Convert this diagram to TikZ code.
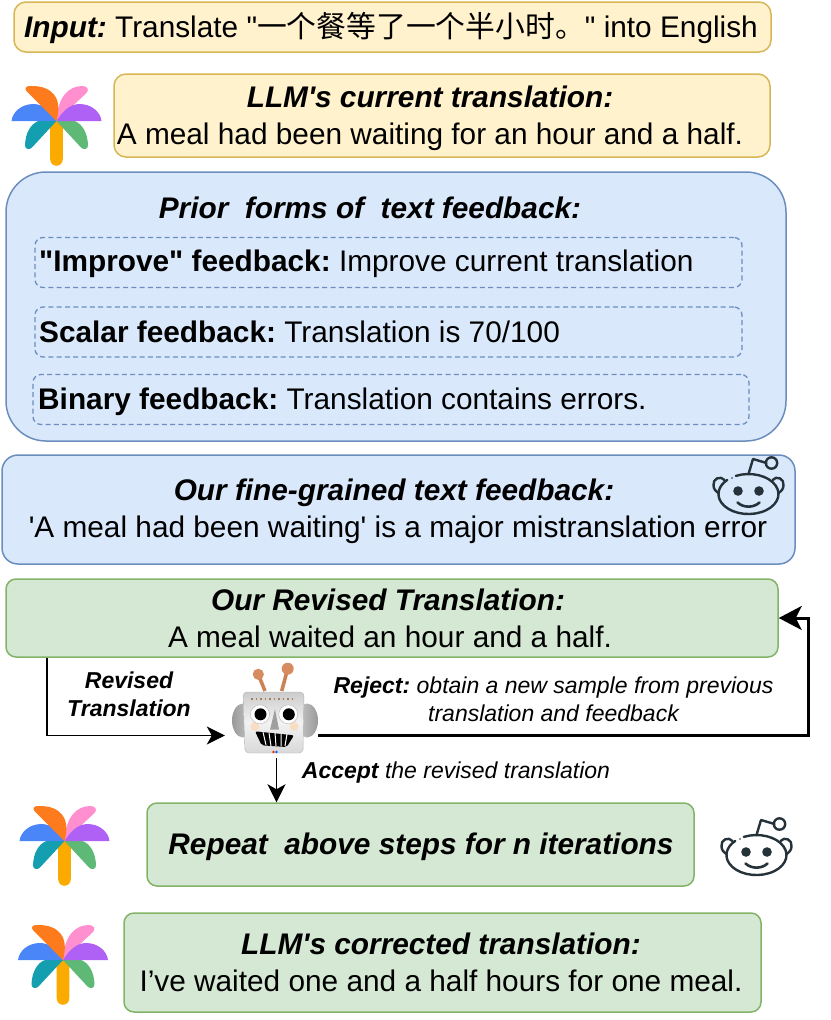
\documentclass[tikz,border=0pt]{standalone}
\usepackage{fontspec}
\setmainfont{Liberation Sans}[Ligatures=TeXOff]
\newfontfamily\cjk{Noto Sans CJK SC}
\usetikzlibrary{arrows.meta}
\frenchspacing
\definecolor{yellowfill}{HTML}{FFF2CC}
\definecolor{yellowline}{HTML}{D6B656}
\definecolor{bluefill}{HTML}{DAE8FC}
\definecolor{blueline}{HTML}{6C8EBF}
\definecolor{greenfill}{HTML}{D5E8D4}
\definecolor{greenline}{HTML}{82B366}
\definecolor{snooink}{HTML}{25323A}
\tikzset{
  bigtext/.style={font=\fontsize{29.8}{35}\selectfont, inner sep=0pt, text height=24pt, text depth=3pt},
  smalltext/.style={font=\fontsize{23}{28}\selectfont\bfseries\itshape, inner sep=0pt, align=center},
  notetext/.style={font=\fontsize{23}{28}\selectfont\itshape, inner sep=0pt, align=center},
  box/.style={draw, line width=1.5pt, inner sep=0pt, rounded corners=#1},
  yellowbox/.style={box=12pt, draw=yellowline, fill=yellowfill},
  bluebox/.style={box=#1, draw=blueline, fill=bluefill},
  greenbox/.style={box=10pt, draw=greenline, fill=greenfill},
  dashbox/.style={box=8pt, draw=blueline, line width=1.3pt, dash pattern=on 5pt off 3.3pt, minimum height=50pt},
  thinarrow/.style={line width=1.3pt, -{Stealth[length=18pt,width=18pt,inset=5pt]}},
  thickarrow/.style={line width=3pt, -{Stealth[length=23pt,width=24pt,inset=6pt]}},
  palm/.pic={
    \fill[color={rgb,255:red,251;green,171;blue,0}] (-6.3,0) -- (6.3,0) -- (6.3,38) .. controls (6.3,47) and (-6.3,47) .. (-6.3,38) -- cycle;
    \fill[color={rgb,255:red,93;green,185;blue,117}] (0,0) -- (18,0) .. controls (26,3) and (31,12) .. (31.5,24) .. controls (31.5,28) and (28,29) .. (25,27) -- cycle;
    \fill[color={rgb,255:red,20;green,159;blue,176}] (0,0) -- (-18,0) .. controls (-26,3) and (-31,12) .. (-31.5,24) .. controls (-31.5,28) and (-28,29) .. (-25,27) -- cycle;
    \fill[color={rgb,255:red,255;green,143;blue,207}] (0,0) -- (30,-28) .. controls (33,-31) and (31,-35) .. (26,-35) .. controls (12,-35) and (1,-24) .. (0,0) -- cycle;
    \fill[color={rgb,255:red,176;green,97;blue,245}] (0,0) .. controls (6,-10) and (14,-17) .. (23,-17) .. controls (35,-17) and (44,-9) .. (45,0) -- cycle;
    \fill[color={rgb,255:red,74;green,134;blue,247}] (0,0) .. controls (-4,-10) and (-14,-17) .. (-23,-17) .. controls (-35,-17) and (-44,-9) .. (-45,0) -- cycle;
    \fill[color={rgb,255:red,253;green,123;blue,28}] (0,0) .. controls (3,-12) and (3,-22) .. (-5,-29) .. controls (-11,-34) and (-17,-35) .. (-27,-35) .. controls (-31,-35) and (-32,-32) .. (-30,-30) -- cycle;
  },
  snoo/.pic={
    \draw[snooink, line width=2.4pt, line cap=round] (-12.7,-18.1) arc[start angle=-115, end angle=225, x radius=30, y radius=20];
    \draw[snooink, line width=2.4pt, line cap=round] (-24,-14) .. controls (-28,-19) and (-36,-15) .. (-35,-9) .. controls (-35,-5) and (-33,-3) .. (-30,-1);
    \draw[snooink, line width=2.4pt, line cap=round] (24,-14) .. controls (28,-19) and (36,-15) .. (35,-9) .. controls (35,-5) and (33,-3) .. (30,-1);
    \draw[snooink, line width=2.4pt, line cap=round, line join=round] (0,-20) -- (4.5,-35) -- (18,-31);
    \draw[snooink, line width=2.4pt] (23,-31) circle (5.7);
    \fill[snooink] (-10.5,-3) circle (4.8) (10.5,-3) circle (4.8) (-16.5,-16) circle (0.9);
    \draw[snooink, line width=2.6pt, line cap=round] (-11,8.5) .. controls (-5,14) and (5,14) .. (11,8.5);
  },
  robot/.pic={
    \draw[color={rgb,255:red,205;green,130;blue,85}, line width=3.6pt] (-10,-31) -- (-16.7,-47.7) (6.7,-31) -- (12.7,-53.3);
    \fill[color={rgb,255:red,215;green,140;blue,95}] (-16.7,-47.7) circle (5.6) (12.7,-53.3) circle (6);
    \shade[left color=gray!80, right color=gray!40] (-32,-1.5) ellipse (11 and 17);
    \shade[left color=gray!40, right color=gray!80] (32,-1.5) ellipse (11 and 17);
    \shade[rounded corners=4pt, top color=gray!40, bottom color=gray!30, middle color=gray!10, draw=gray!60, line width=0.4pt] (-32,-30) -- (29,-30) -- (28,31) -- (-30,31) -- cycle;
    \draw[gray!70!orange, line width=1.2pt, dash pattern=on 1.5pt off 3pt] (-24,-23) -- (20,-23);
    \fill[orange!35, opacity=0.6] (-20,4.3) circle (4.5) (19,4.3) circle (4.5);
    \fill[gray!75] (0,-13) -- (-5,7.7) -- (4,7.7) -- cycle;
    \fill[white, draw=gray!60, line width=0.4pt] (-15,-7.7) circle (9.5) (13.3,-7.7) circle (9.5);
    \fill[black] (-14.5,-7.7) circle (6) (13.8,-7.7) circle (6);
    \fill[black, rounded corners=2pt] (-20,9.3) -- (19,13.3) -- (11.7,25) -- (-13.3,23.3) -- cycle;
    \draw[white, line width=1pt] (-12,10) -- (-9,23) (-6,11) -- (-4,24) (0,11) -- (1,24) (6,12) -- (6,24) (12,12) -- (10,24);
    \fill[red!70!orange] (-1.5,30) circle (1.3);
    \fill[blue!60!cyan] (1.5,30) circle (1.3);
  }
}
\begin{document}
\begin{tikzpicture}[x=1pt, y=-1pt]
\useasboundingbox (0,0) rectangle (830,1020);
\node[yellowbox, minimum width=757pt, minimum height=50pt] (inputbox) at (392.5,27) {};
\node[bigtext] (inputtext) at (391,27) {\textbf{\textit{Input:}} Translate "{\cjk 一个餐等了一个半小时。}" into English};
\node[yellowbox, minimum width=656pt, minimum height=83pt] (currentbox) at (442,115.5) {};
\node[bigtext] (currenttitle) at (430,97) {\textbf{\textit{LLM's current translation:}}};
\node[bigtext] (currenttext) at (430,134) {A meal had been waiting for an hour and a half.};
\node[bluebox=40pt, minimum width=780pt, minimum height=269pt] (priorbox) at (396,306.5) {};
\node[bigtext] (priortitle) at (370,208) {\textbf{\textit{Prior\ \ forms of\ \ text feedback:}}};
\node[dashbox, minimum width=707pt] (improvebox) at (388.5,262.5) {};
\node[dashbox, minimum width=707pt] (scalarbox) at (388.5,332) {};
\node[dashbox, minimum width=716pt] (binarybox) at (391,399.5) {};
\node[bigtext, anchor=west] (improvetext) at (39,261) {\textbf{"Improve" feedback:} Improve current translation};
\node[bigtext, anchor=west] (scalartext) at (39,332) {\textbf{Scalar feedback:} Translation is 70/100};
\node[bigtext, anchor=west] (binarytext) at (38,399) {\textbf{Binary feedback:} Translation contains errors.};
\node[bluebox=16pt, minimum width=793pt, minimum height=109pt] (finebox) at (398.5,509.5) {};
\node[bigtext] (finetitle) at (394,490) {\textbf{\textit{Our fine-grained text feedback:}}};
\node[bigtext] (finetext) at (398,527) {'A meal had been waiting' is a major mistranslation error};
\node[greenbox, minimum width=772pt, minimum height=78pt] (revised) at (392,618) {};
\node[bigtext] (revisedtitle) at (388,600) {\textbf{\textit{Our Revised Translation:}}};
\node[bigtext] (revisedtext) at (390,637) {A meal waited an hour and a half.};
\node[minimum width=93pt, minimum height=45pt, inner sep=0pt] (robotnode) at (271.5,735.5) {};
\node[smalltext] (revisedlabel) at (129,694) {Revised\\Translation};
\node[notetext] (rejectlabel) at (553.5,699) {\textbf{Reject:} obtain a new sample from previous\\translation and feedback};
\node[notetext] (acceptlabel) at (456,773) {\textbf{Accept} the revised translation};
\node[greenbox, minimum width=547pt, minimum height=83pt] (repeatbox) at (420.5,844.5) {};
\node[bigtext] (repeattext) at (421,844) {\textbf{\textit{Repeat\ \ above steps for n iterations}}};
\node[greenbox, minimum width=637pt, minimum height=99pt] (correctedbox) at (442.5,962.5) {};
\node[bigtext] (correctedtitle) at (441,944) {\textbf{\textit{LLM's corrected translation:}}};
\node[bigtext] (correctedtext) at (441,981) {I’ve waited one and a half hours for one meal.};
\pic at (56.5,121) {palm};
\pic at (64.5,841) {palm};
\pic at (63,960) {palm};
\pic at (748.5,494) {snoo};
\pic at (756.5,855) {snoo};
\pic at (275,722) {robot};
\coordinate (rejectturn) at (808,737);
\draw[thinarrow] ([xshift=-345pt]revised.south) |- (robotnode.west);
\draw[thickarrow] (robotnode.east) -- (robotnode.east -| rejectturn) |- (revised.east);
\draw[thinarrow] ([xshift=5pt]robotnode.south) -- ([xshift=5pt]robotnode.south |- repeatbox.north);
\end{tikzpicture}
\end{document}
